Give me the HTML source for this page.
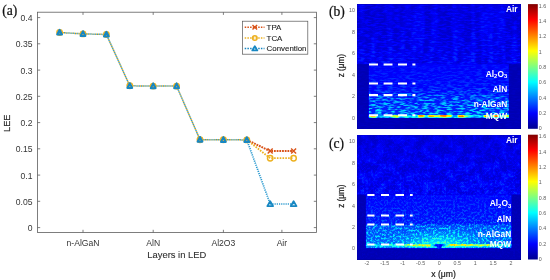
<!DOCTYPE html>
<html><head><meta charset="utf-8"><title>LEE figure</title>
<style>
html,body{margin:0;padding:0;background:#fff;}
body{width:550px;height:280px;overflow:hidden;font-family:"Liberation Sans",sans-serif;}
svg{display:block}
text{font-family:"Liberation Sans",sans-serif;}
.tk{font-size:8.6px;fill:#363636}
.st{font-size:5.3px;fill:#606060}
.lb{font-size:8.4px;font-weight:bold;fill:#fff}
.pl{font-family:"Liberation Serif",serif;font-size:13.6px;fill:#111;stroke:#111;stroke-width:0.22px}
</style></head><body>
<svg width="550" height="280" viewBox="0 0 550 280">
<defs>
<linearGradient id="jet" x1="0" y1="1" x2="0" y2="0">
<stop offset="0" stop-color="#00008f"/><stop offset="0.125" stop-color="#0000ff"/>
<stop offset="0.375" stop-color="#00ffff"/><stop offset="0.625" stop-color="#ffff00"/>
<stop offset="0.875" stop-color="#ff0000"/><stop offset="1" stop-color="#800000"/>
</linearGradient>
<filter id="fjetB" x="0" y="0" width="1" height="1" color-interpolation-filters="sRGB">
<feTurbulence type="fractalNoise" baseFrequency="0.17 0.6" numOctaves="2" seed="3" result="a"/>
<feColorMatrix in="a" type="matrix" values="0 0 0 0 1  3.50 0 0 0 -1.45  0 0 0 0 0  0 0 0 0 1" result="a1"/>
<feTurbulence type="fractalNoise" baseFrequency="0.17 0.02" numOctaves="1" seed="5" result="b"/>
<feColorMatrix in="b" type="matrix" values="0 0 0 0 0  0 0 0 0 0  4.00 0 0 0 -1.60  0 0 0 0 1" result="b1"/>
<feComposite in="a1" in2="b1" operator="arithmetic" k1="0" k2="1" k3="1" k4="0" result="nn"/>
<feComposite in="SourceGraphic" in2="nn" operator="arithmetic" k1="1" k2="0" k3="0" k4="0" result="m"/>
<feColorMatrix in="m" type="matrix" values="1 1 1 0 0  1 1 1 0 0  1 1 1 0 0  0 0 0 0 1" result="p"/>
<feComponentTransfer in="p"><feFuncR type="table" tableValues="0.000 0.000 0.000 0.000 0.000 0.000 0.000 0.000 0.000 0.000 0.000 0.000 0.000 0.125 0.250 0.375 0.500 0.625 0.750 0.875 1.000 1.000 1.000 1.000 1.000 1.000 1.000 1.000 1.000 0.875 0.750 0.625 0.500"/><feFuncG type="table" tableValues="0.000 0.000 0.000 0.000 0.000 0.125 0.250 0.375 0.500 0.625 0.750 0.875 1.000 1.000 1.000 1.000 1.000 1.000 1.000 1.000 1.000 0.875 0.750 0.625 0.500 0.375 0.250 0.125 0.000 0.000 0.000 0.000 0.000"/><feFuncB type="table" tableValues="0.500 0.625 0.750 0.875 1.000 1.000 1.000 1.000 1.000 1.000 1.000 1.000 1.000 0.875 0.750 0.625 0.500 0.375 0.250 0.125 0.000 0.000 0.000 0.000 0.000 0.000 0.000 0.000 0.000 0.000 0.000 0.000 0.000"/></feComponentTransfer>
</filter>
<filter id="fjetC" x="0" y="0" width="1" height="1" color-interpolation-filters="sRGB">
<feTurbulence type="fractalNoise" baseFrequency="0.45 0.5" numOctaves="2" seed="11" result="a"/>
<feColorMatrix in="a" type="matrix" values="0 0 0 0 1  4.00 0 0 0 -1.80  0 0 0 0 0  0 0 0 0 1" result="a1"/>
<feTurbulence type="fractalNoise" baseFrequency="0.13 0.11" numOctaves="2" seed="7" result="b"/>
<feColorMatrix in="b" type="matrix" values="0 0 0 0 0  0 0 0 0 0  3.50 0 0 0 -1.35  0 0 0 0 1" result="b1"/>
<feComposite in="a1" in2="b1" operator="arithmetic" k1="0" k2="1" k3="1" k4="0" result="nn"/>
<feComposite in="SourceGraphic" in2="nn" operator="arithmetic" k1="1" k2="0" k3="0" k4="0" result="m"/>
<feColorMatrix in="m" type="matrix" values="1 1 1 0 0  1 1 1 0 0  1 1 1 0 0  0 0 0 0 1" result="p"/>
<feComponentTransfer in="p"><feFuncR type="table" tableValues="0.000 0.000 0.000 0.000 0.000 0.000 0.000 0.000 0.000 0.000 0.000 0.000 0.000 0.125 0.250 0.375 0.500 0.625 0.750 0.875 1.000 1.000 1.000 1.000 1.000 1.000 1.000 1.000 1.000 0.875 0.750 0.625 0.500"/><feFuncG type="table" tableValues="0.000 0.000 0.000 0.000 0.000 0.125 0.250 0.375 0.500 0.625 0.750 0.875 1.000 1.000 1.000 1.000 1.000 1.000 1.000 1.000 1.000 0.875 0.750 0.625 0.500 0.375 0.250 0.125 0.000 0.000 0.000 0.000 0.000"/><feFuncB type="table" tableValues="0.500 0.625 0.750 0.875 1.000 1.000 1.000 1.000 1.000 1.000 1.000 1.000 1.000 0.875 0.750 0.625 0.500 0.375 0.250 0.125 0.000 0.000 0.000 0.000 0.000 0.000 0.000 0.000 0.000 0.000 0.000 0.000 0.000"/></feComponentTransfer>
</filter>
<linearGradient id="gB1" gradientUnits="userSpaceOnUse" x1="0" y1="4.6" x2="0" y2="64.1"><stop offset="0.00" stop-color="#120a08"/><stop offset="1.00" stop-color="#150f08"/></linearGradient>
<linearGradient id="gB2" gradientUnits="userSpaceOnUse" x1="0" y1="64.1" x2="0" y2="118.0"><stop offset="0.00" stop-color="#1e0800"/><stop offset="0.40" stop-color="#1f0f00"/><stop offset="0.55" stop-color="#211a00"/><stop offset="0.60" stop-color="#242600"/><stop offset="1.00" stop-color="#293600"/></linearGradient>
<linearGradient id="gC1" gradientUnits="userSpaceOnUse" x1="0" y1="135.2" x2="0" y2="194.4"><stop offset="0.00" stop-color="#12060a"/><stop offset="1.00" stop-color="#160d0d"/></linearGradient>
<linearGradient id="gC2" gradientUnits="userSpaceOnUse" x1="0" y1="194.4" x2="0" y2="248.1"><stop offset="0.00" stop-color="#200a00"/><stop offset="0.40" stop-color="#221200"/><stop offset="0.55" stop-color="#241700"/><stop offset="0.58" stop-color="#2f2400"/><stop offset="1.00" stop-color="#392600"/></linearGradient>
<radialGradient id="gC3" gradientUnits="userSpaceOnUse" cx="440.0" cy="244.9" r="62.0" gradientTransform="translate(440 244.9) scale(1 0.3) translate(-440 -244.9)"><stop offset="0.00" stop-color="#611f00" stop-opacity="1.00"/><stop offset="0.40" stop-color="#4c2400" stop-opacity="0.80"/><stop offset="1.00" stop-color="#392600" stop-opacity="0.00"/></radialGradient>
<linearGradient id="gC4" gradientUnits="userSpaceOnUse" x1="365.9" y1="0" x2="511.5" y2="0"><stop offset="0.000" stop-color="#421f1a"/><stop offset="0.220" stop-color="#521f1a"/><stop offset="0.289" stop-color="#70261a"/><stop offset="0.433" stop-color="#80261a"/><stop offset="0.461" stop-color="#4c1a00"/><stop offset="0.481" stop-color="#1f0d00"/><stop offset="0.523" stop-color="#1f0d00"/><stop offset="0.543" stop-color="#4c1a00"/><stop offset="0.578" stop-color="#85261a"/><stop offset="0.839" stop-color="#75261a"/><stop offset="0.907" stop-color="#571f1a"/><stop offset="1.000" stop-color="#471f1a"/></linearGradient>
</defs>
<rect width="550" height="280" fill="#fff"/>
<g id="chartA">
<rect x="37.5" y="12.2" width="279.0" height="220.3" fill="#fff" stroke="#5e5e5e" stroke-width="0.8"/>
<path d="M37.5 227.6h2.7M316.5 227.6h-2.7M37.5 201.3h2.7M316.5 201.3h-2.7M37.5 175.1h2.7M316.5 175.1h-2.7M37.5 148.8h2.7M316.5 148.8h-2.7M37.5 122.6h2.7M316.5 122.6h-2.7M37.5 96.3h2.7M316.5 96.3h-2.7M37.5 70.1h2.7M316.5 70.1h-2.7M37.5 43.8h2.7M316.5 43.8h-2.7M37.5 17.6h2.7M316.5 17.6h-2.7M83.0 232.5v-2.7M83.0 12.2v2.7M153.2 232.5v-2.7M153.2 12.2v2.7M223.4 232.5v-2.7M223.4 12.2v2.7M281.9 232.5v-2.7M281.9 12.2v2.7" stroke="#5e5e5e" stroke-width="0.8" fill="none"/>
<text class="tk" x="32.5" y="231.1" text-anchor="end">0</text>
<text class="tk" x="32.5" y="204.8" text-anchor="end">0.05</text>
<text class="tk" x="32.5" y="178.6" text-anchor="end">0.1</text>
<text class="tk" x="32.5" y="152.3" text-anchor="end">0.15</text>
<text class="tk" x="32.5" y="126.1" text-anchor="end">0.2</text>
<text class="tk" x="32.5" y="99.8" text-anchor="end">0.25</text>
<text class="tk" x="32.5" y="73.6" text-anchor="end">0.3</text>
<text class="tk" x="32.5" y="47.3" text-anchor="end">0.35</text>
<text class="tk" x="32.5" y="21.1" text-anchor="end">0.4</text>
<text class="tk" x="83.0" y="245.5" text-anchor="middle">n-AlGaN</text>
<text class="tk" x="153.2" y="245.5" text-anchor="middle">AlN</text>
<text class="tk" x="223.4" y="245.5" text-anchor="middle">Al2O3</text>
<text class="tk" x="281.9" y="245.5" text-anchor="middle">Air</text>
<text x="176.8" y="258.1" text-anchor="middle" style="font-size:9.4px;fill:#303030;stroke:#303030;stroke-width:0.1px">Layers in LED</text>
<text transform="translate(10.3 123.2) rotate(-90)" text-anchor="middle" style="font-size:9.2px;fill:#2a2a2a;stroke:#2a2a2a;stroke-width:0.2px">LEE</text>
<text class="pl" x="2.2" y="15">(a)</text>
<polyline points="59.6,32.5 83.0,33.9 106.4,34.5 129.8,85.8 153.2,86.1 176.6,86.1 200.0,139.7 223.4,139.8 246.8,139.9" fill="none" stroke="#edb120" stroke-width="1.5" stroke-dasharray="1.1 1.1" stroke-dashoffset="1.1"/>
<polyline points="59.6,32.5 83.0,33.9 106.4,34.5 129.8,85.8 153.2,86.1 176.6,86.1 200.0,139.7 223.4,139.8 246.8,139.9" fill="none" stroke="#2e9bd0" stroke-width="1.5" stroke-dasharray="1.1 1.1"/>
<polyline points="246.8,139.9 270.2,151.1 293.6,151.1" fill="none" stroke="#d95319" stroke-width="2" stroke-dasharray="1.8 0.9"/>
<polyline points="246.8,139.9 270.2,158.2 293.6,158.2" fill="none" stroke="#edb120" stroke-width="1.8" stroke-dasharray="1.6 1.2"/>
<polyline points="246.8,139.9 270.2,204.0 293.6,204.0" fill="none" stroke="#2e9bd0" stroke-width="1.7" stroke-dasharray="1.2 1.0"/>
<path d="M267.7 148.6L272.7 153.6M267.7 153.6L272.7 148.6" stroke="#d95319" stroke-width="1.4" fill="none"/>
<path d="M291.1 148.6L296.1 153.6M291.1 153.6L296.1 148.6" stroke="#d95319" stroke-width="1.4" fill="none"/>
<circle cx="59.6" cy="32.5" r="2.7" stroke="#edb120" stroke-width="1.5" fill="none"/>
<circle cx="83.0" cy="33.9" r="2.7" stroke="#edb120" stroke-width="1.5" fill="none"/>
<circle cx="106.4" cy="34.5" r="2.7" stroke="#edb120" stroke-width="1.5" fill="none"/>
<circle cx="129.8" cy="85.8" r="2.7" stroke="#edb120" stroke-width="1.5" fill="none"/>
<circle cx="153.2" cy="86.1" r="2.7" stroke="#edb120" stroke-width="1.5" fill="none"/>
<circle cx="176.6" cy="86.1" r="2.7" stroke="#edb120" stroke-width="1.5" fill="none"/>
<circle cx="200.0" cy="139.7" r="2.7" stroke="#edb120" stroke-width="1.5" fill="none"/>
<circle cx="223.4" cy="139.8" r="2.7" stroke="#edb120" stroke-width="1.5" fill="none"/>
<circle cx="246.8" cy="139.9" r="2.7" stroke="#edb120" stroke-width="1.5" fill="none"/>
<circle cx="270.2" cy="158.2" r="2.7" stroke="#edb120" stroke-width="1.5" fill="none"/>
<circle cx="293.6" cy="158.2" r="2.7" stroke="#edb120" stroke-width="1.5" fill="none"/>
<path d="M59.6 29.8L62.0 34.5L57.2 34.5Z" stroke="#1787c2" stroke-width="2.0" stroke-linejoin="round" fill="#c8a850"/>
<path d="M83.0 31.2L85.4 35.9L80.6 35.9Z" stroke="#1787c2" stroke-width="2.0" stroke-linejoin="round" fill="#c8a850"/>
<path d="M106.4 31.8L108.8 36.5L104.0 36.5Z" stroke="#1787c2" stroke-width="2.0" stroke-linejoin="round" fill="#c8a850"/>
<path d="M129.8 83.2L132.2 87.9L127.4 87.9Z" stroke="#1787c2" stroke-width="2.0" stroke-linejoin="round" fill="#c8a850"/>
<path d="M153.2 83.4L155.6 88.2L150.8 88.2Z" stroke="#1787c2" stroke-width="2.0" stroke-linejoin="round" fill="#c8a850"/>
<path d="M176.6 83.4L179.0 88.2L174.2 88.2Z" stroke="#1787c2" stroke-width="2.0" stroke-linejoin="round" fill="#c8a850"/>
<path d="M200.0 137.0L202.4 141.7L197.6 141.7Z" stroke="#1787c2" stroke-width="2.0" stroke-linejoin="round" fill="#c8a850"/>
<path d="M223.4 137.1L225.8 141.9L221.0 141.9Z" stroke="#1787c2" stroke-width="2.0" stroke-linejoin="round" fill="#c8a850"/>
<path d="M246.8 137.2L249.2 142.0L244.4 142.0Z" stroke="#1787c2" stroke-width="2.0" stroke-linejoin="round" fill="#c8a850"/>
<path d="M270.2 201.3L273.1 206.1L267.3 206.1Z" stroke="#1787c2" stroke-width="1.8" stroke-linejoin="round" fill="none"/>
<path d="M293.6 201.3L296.5 206.1L290.7 206.1Z" stroke="#1787c2" stroke-width="1.8" stroke-linejoin="round" fill="none"/>
<rect x="242.4" y="21.2" width="65.4" height="33" fill="#fff" stroke="#555" stroke-width="0.7"/>
<path d="M244.7 27.2H264.5" stroke="#d95319" stroke-width="1.5" stroke-dasharray="1.5 1.2" fill="none"/>
<path d="M252.5 24.9L257.1 29.5M252.5 29.5L257.1 24.9" stroke="#d95319" stroke-width="1.4" fill="none"/>
<text x="266.6" y="30.0" style="font-size:7.9px;fill:#262626;stroke:#262626;stroke-width:0.12px">TPA</text>
<path d="M244.7 38.0H264.5" stroke="#edb120" stroke-width="1.5" stroke-dasharray="1.5 1.2" fill="none"/>
<circle cx="254.8" cy="38.0" r="2.3" stroke="#edb120" stroke-width="1.5" fill="none"/>
<text x="266.6" y="40.8" style="font-size:7.9px;fill:#262626;stroke:#262626;stroke-width:0.12px">TCA</text>
<path d="M244.7 48.6H264.5" stroke="#1787c2" stroke-width="1.5" stroke-dasharray="1.5 1.2" fill="none"/>
<path d="M254.8 46.3L257.3 50.4L252.3 50.4Z" stroke="#1787c2" stroke-width="1.8" stroke-linejoin="round" fill="none"/>
<text x="266.6" y="51.4" style="font-size:7.9px;fill:#262626;stroke:#262626;stroke-width:0.12px">Convention</text>
</g>
<g id="heatB">
<g filter="url(#fjetB)">
<rect x="357.4" y="4.6" width="162.7" height="123.9" fill="#0d0300"/>
<rect x="357.4" y="4.6" width="162.7" height="59.5" fill="url(#gB1)"/>
<rect x="368.8" y="64.1" width="140.0" height="53.9" fill="url(#gB2)"/>
<rect x="368.8" y="115.1" width="140.0" height="2.4" fill="#451f6b"/>
</g>
<path d="M369.0 64.5H378.0M383.6 64.5H392.5M398.0 64.5H407.0M412.4 64.5H415.4" stroke="#fff" stroke-width="2.1" fill="none"/>
<path d="M369.0 83.5H378.0M383.6 83.5H392.5M398.0 83.5H407.0M412.4 83.5H415.4" stroke="#fff" stroke-width="2.1" fill="none"/>
<path d="M369.0 95.1H378.0M383.6 95.1H392.5M398.0 95.1H407.0M412.4 95.1H415.4" stroke="#fff" stroke-width="2.1" fill="none"/>
<path d="M369.0 115.2H378.0M383.6 115.2H392.5M398.0 115.2H407.0M412.4 115.2H415.4" stroke="#fff" stroke-width="2.1" fill="none"/>
<text class="lb" x="507.2" y="76.5" text-anchor="end">Al<tspan dy="1.8" font-size="5.9">2</tspan><tspan dy="-1.8">O</tspan><tspan dy="1.8" font-size="5.9">3</tspan></text>
<text class="lb" x="507.2" y="92.2" text-anchor="end">AlN</text>
<text class="lb" x="507.2" y="107.4" text-anchor="end">n-AlGaN</text>
<text class="lb" x="507.2" y="119.3" text-anchor="end">MQW</text>
<text class="lb" x="517.6" y="11.8" text-anchor="end">Air</text>
<text class="st" x="354.9" y="119.8" text-anchor="end">0</text>
<text class="st" x="354.9" y="98.2" text-anchor="end">2</text>
<text class="st" x="354.9" y="76.7" text-anchor="end">4</text>
<text class="st" x="354.9" y="55.1" text-anchor="end">6</text>
<text class="st" x="354.9" y="33.6" text-anchor="end">8</text>
<text class="st" x="354.9" y="12.0" text-anchor="end">10</text>
<text transform="translate(344.4 65.7) rotate(-90)" text-anchor="middle" style="font-size:8.2px;fill:#1a1a1a;stroke:#1a1a1a;stroke-width:0.2px">z (μm)</text>
<text class="pl" x="329" y="15.5">(b)</text>
<rect x="528" y="4.1" width="9.8" height="124.7" fill="url(#jet)"/>
<text class="st" x="538.8" y="130.4">0</text>
<text class="st" x="538.8" y="115.1">0.2</text>
<text class="st" x="538.8" y="99.7">0.4</text>
<text class="st" x="538.8" y="84.4">0.6</text>
<text class="st" x="538.8" y="69.0">0.8</text>
<text class="st" x="538.8" y="53.7">1</text>
<text class="st" x="538.8" y="38.3">1.2</text>
<text class="st" x="538.8" y="23.0">1.4</text>
<text class="st" x="538.8" y="7.7">1.6</text>
</g>
<g id="heatC">
<g filter="url(#fjetC)">
<rect x="357.4" y="135.2" width="162.7" height="124.0" fill="#0d0300"/>
<rect x="357.4" y="135.2" width="162.7" height="59.2" fill="url(#gC1)"/>
<rect x="365.9" y="194.4" width="145.6" height="53.7" fill="url(#gC2)"/>
<rect x="365.9" y="194.4" width="145.6" height="53.7" fill="url(#gC3)"/>
<rect x="365.9" y="244.2" width="145.6" height="2.1" fill="url(#gC4)"/>
<circle cx="439.3" cy="246.5" r="2.4" fill="#210d00"/>
</g>
<path d="M367.3 195.0H374.5M381.0 195.0H389.0M395.5 195.0H404.0M410.0 195.0H412.7" stroke="#fff" stroke-width="2.1" fill="none"/>
<path d="M367.3 215.5H374.5M381.0 215.5H389.0M395.5 215.5H404.0M410.0 215.5H412.7" stroke="#fff" stroke-width="2.1" fill="none"/>
<path d="M367.3 224.5H374.5M381.0 224.5H389.0M395.5 224.5H404.0M410.0 224.5H412.7" stroke="#fff" stroke-width="2.1" fill="none"/>
<path d="M367.3 244.5H374.5M381.0 244.5H389.0M395.5 244.5H404.0M410.0 244.5H412.7" stroke="#fff" stroke-width="2.1" fill="none"/>
<text class="lb" x="511.2" y="206.3" text-anchor="end">Al<tspan dy="1.8" font-size="5.9">2</tspan><tspan dy="-1.8">O</tspan><tspan dy="1.8" font-size="5.9">3</tspan></text>
<text class="lb" x="511.2" y="221.6" text-anchor="end">AlN</text>
<text class="lb" x="511.2" y="237.1" text-anchor="end">n-AlGaN</text>
<text class="lb" x="511.2" y="247.4" text-anchor="end">MQW</text>
<text class="lb" x="517.6" y="143.1" text-anchor="end">Air</text>
<text class="st" x="354.9" y="250.4" text-anchor="end">0</text>
<text class="st" x="354.9" y="228.9" text-anchor="end">2</text>
<text class="st" x="354.9" y="207.5" text-anchor="end">4</text>
<text class="st" x="354.9" y="186.0" text-anchor="end">6</text>
<text class="st" x="354.9" y="164.6" text-anchor="end">8</text>
<text class="st" x="354.9" y="143.1" text-anchor="end">10</text>
<text transform="translate(344.4 196.1) rotate(-90)" text-anchor="middle" style="font-size:8.2px;fill:#1a1a1a;stroke:#1a1a1a;stroke-width:0.2px">z (μm)</text>
<text class="pl" x="329" y="148.0">(c)</text>
<rect x="528" y="134.7" width="9.8" height="124.8" fill="url(#jet)"/>
<text class="st" x="538.8" y="261.1">0</text>
<text class="st" x="538.8" y="245.7">0.2</text>
<text class="st" x="538.8" y="230.4">0.4</text>
<text class="st" x="538.8" y="215.0">0.6</text>
<text class="st" x="538.8" y="199.7">0.8</text>
<text class="st" x="538.8" y="184.3">1</text>
<text class="st" x="538.8" y="169.0">1.2</text>
<text class="st" x="538.8" y="153.6">1.4</text>
<text class="st" x="538.8" y="138.3">1.6</text>
</g>
<text class="st" x="366.8" y="264.8" text-anchor="middle">-2</text>
<text class="st" x="384.7" y="264.8" text-anchor="middle">-1.5</text>
<text class="st" x="402.6" y="264.8" text-anchor="middle">-1</text>
<text class="st" x="420.6" y="264.8" text-anchor="middle">-0.5</text>
<text class="st" x="439.3" y="264.8" text-anchor="middle">0</text>
<text class="st" x="457.2" y="264.8" text-anchor="middle">0.5</text>
<text class="st" x="475.2" y="264.8" text-anchor="middle">1</text>
<text class="st" x="493.1" y="264.8" text-anchor="middle">1.5</text>
<text class="st" x="511.0" y="264.8" text-anchor="middle">2</text>
<text x="443.6" y="276.6" text-anchor="middle" style="font-size:8.6px;fill:#1a1a1a;stroke:#1a1a1a;stroke-width:0.2px">x (μm)</text>
</svg></body></html>
